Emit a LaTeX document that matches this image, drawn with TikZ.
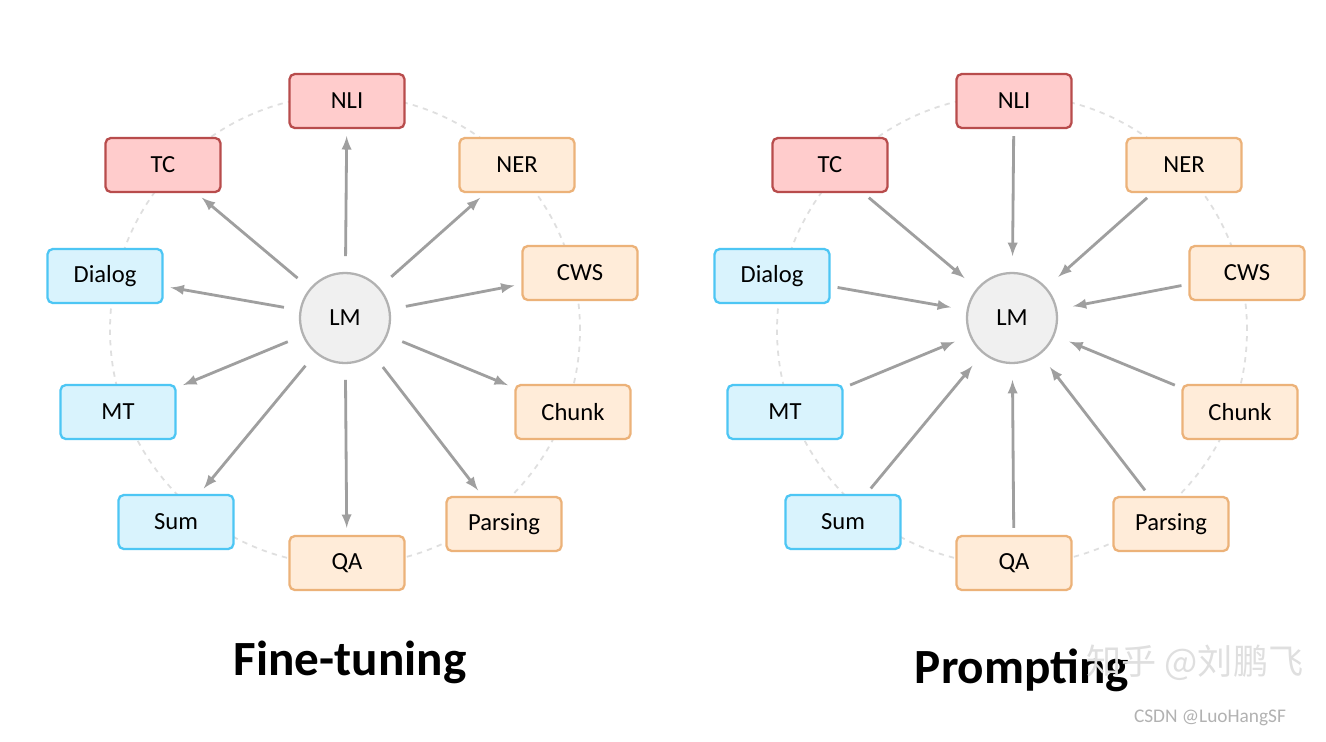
\documentclass[tikz,border=0pt]{standalone}
\usepackage{fontspec}
\setmainfont{Carlito}
\newfontfamily\cjk{Noto Sans CJK SC}
\begin{document}
\begin{tikzpicture}[x=0.02cm,y=-0.02cm,
 box/.style={draw,line width=1.3pt,rounded corners=3pt,minimum width=115*0.02cm,minimum height=54*0.02cm,font=\fontsize{14}{16}\selectfont},
 rd/.style={box,fill=red!20,draw=red!60!black!70},
 og/.style={box,fill=orange!15,draw=orange!50!brown!60},
 bl/.style={box,fill=cyan!15,draw=cyan!70},
 lm/.style={circle,draw=gray!60,line width=1.3pt,fill=gray!12,minimum size=90*0.02cm,font=\fontsize{14}{16}\selectfont},
 ar/.style={draw=gray!75,line width=1.6pt,-latex,shorten <=9pt,shorten >=4pt},
 ring/.style={draw=gray!25,dashed,line width=1pt}]
\useasboundingbox (0,0) rectangle (1326,741);
\fill[white] (0,0) rectangle (1326,741);
\foreach \o/\s in {0/a,667/b}{
 \draw[ring] (345+\o,330) circle (235*0.02cm);
 \node[lm] (LM\s) at (345+\o,318) {LM};
 \node[rd] (NLI\s) at (347+\o,101) {NLI};
 \node[rd] (TC\s) at (163+\o,165) {TC};
 \node[og] (NER\s) at (517+\o,165) {NER};
 \node[bl] (Dialog\s) at (105+\o,276) {Dialog};
 \node[og] (CWS\s) at (580+\o,273) {CWS};
 \node[bl] (MT\s) at (118+\o,412) {MT};
 \node[og] (Chunk\s) at (573+\o,412) {Chunk};
 \node[bl] (Sum\s) at (176+\o,522) {Sum};
 \node[og] (Parsing\s) at (504+\o,524) {Parsing};
 \node[og] (QA\s) at (347+\o,563) {QA};
}
\foreach \n in {NLI,TC,NER,Dialog,CWS,MT,Chunk,Sum,Parsing,QA}{
 \draw[ar] (LMa) -- (\n a);
 \draw[ar,shorten <=4pt,shorten >=9pt] (\n b) -- (LMb);
}
\node[font=\fontsize{28}{32}\selectfont\bfseries] (ft) at (350,662) {Fine-tuning};
\node[font=\fontsize{28}{32}\selectfont\bfseries] (pr) at (1022,670) {Prompting};
\node[font=\cjk\fontsize{20}{24}\selectfont,text=gray!25] (zh) at (1195,663) {知乎 @刘鹏飞};
\node[font=\fontsize{11}{13}\selectfont,text=gray!60] (csdn) at (1210,718) {CSDN @LuoHangSF};
\end{tikzpicture}
\end{document}
